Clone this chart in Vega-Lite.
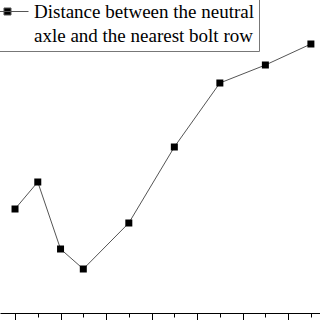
{
  "$schema": "https://vega.github.io/schema/vega-lite/v6.json",
  "width": 320,
  "height": 313,
  "autosize": "none",
  "padding": {"top": 0, "left": 0, "right": 0, "bottom": 7},
  "background": "white",
  "config": {
    "view": {"stroke": null},
    "style": {"guide-label": {"lineHeight": 24}}
  },
  "data": {
    "values": [
      {"x": 0, "y": 104},
      {"x": 1, "y": 131},
      {"x": 2, "y": 64},
      {"x": 3, "y": 44},
      {"x": 5, "y": 90},
      {"x": 7, "y": 166},
      {"x": 9, "y": 230},
      {"x": 11, "y": 248},
      {"x": 13, "y": 269}
    ]
  },
  "resolve": {"axis": {"x": "independent"}},
  "layer": [
    {
      "mark": {"type": "line", "stroke": "#555", "strokeWidth": 1},
      "encoding": {
        "x": {
          "field": "x",
          "type": "quantitative",
          "scale": {"domain": [-0.66, 13.4], "nice": false, "zero": false},
          "axis": {
            "orient": "bottom",
            "title": null,
            "labels": false,
            "grid": false,
            "values": [0, 2, 4, 6, 8, 10, 12],
            "domain": true,
            "domainColor": "#000",
            "domainWidth": 1,
            "tickColor": "#000",
            "tickWidth": 1,
            "tickSize": 8
          }
        },
        "y": {
          "field": "y",
          "type": "quantitative",
          "scale": {"domain": [0, 313], "nice": false},
          "axis": null
        }
      }
    },
    {
      "mark": {"type": "point", "shape": "square", "filled": true, "size": 49, "opacity": 1},
      "encoding": {
        "x": {
          "field": "x",
          "type": "quantitative",
          "scale": {"domain": [-0.66, 13.4], "nice": false, "zero": false},
          "axis": {
            "orient": "bottom",
            "title": null,
            "labels": false,
            "grid": false,
            "values": [1, 3, 5, 7, 9, 11, 13],
            "domain": false,
            "tickColor": "#000",
            "tickWidth": 1,
            "tickSize": 4
          }
        },
        "y": {
          "field": "y",
          "type": "quantitative",
          "scale": {"domain": [0, 313], "nice": false},
          "axis": null
        },
        "color": {
          "datum": "Distance between the neutral axle and the nearest bolt row",
          "scale": {"range": ["#000"]},
          "legend": {
            "title": null,
            "orient": "none",
            "legendX": -19,
            "legendY": -15,
            "padding": 5,
            "strokeColor": "#777",
            "fillColor": "white",
            "symbolType": "M-1,0H1M-0.167,-0.167H0.167V0.167H-0.167Z",
            "symbolSize": 1764,
            "symbolStrokeColor": "#555",
            "symbolStrokeWidth": 1,
            "symbolFillColor": "#000",
            "labelFont": "Liberation Serif",
            "labelFontSize": 19,
            "labelColor": "#000",
            "labelLimit": 400,
            "labelOffset": 5,
            "labelExpr": "['Distance between the neutral', 'axle and the nearest bolt row']"
          }
        }
      }
    }
  ]
}
